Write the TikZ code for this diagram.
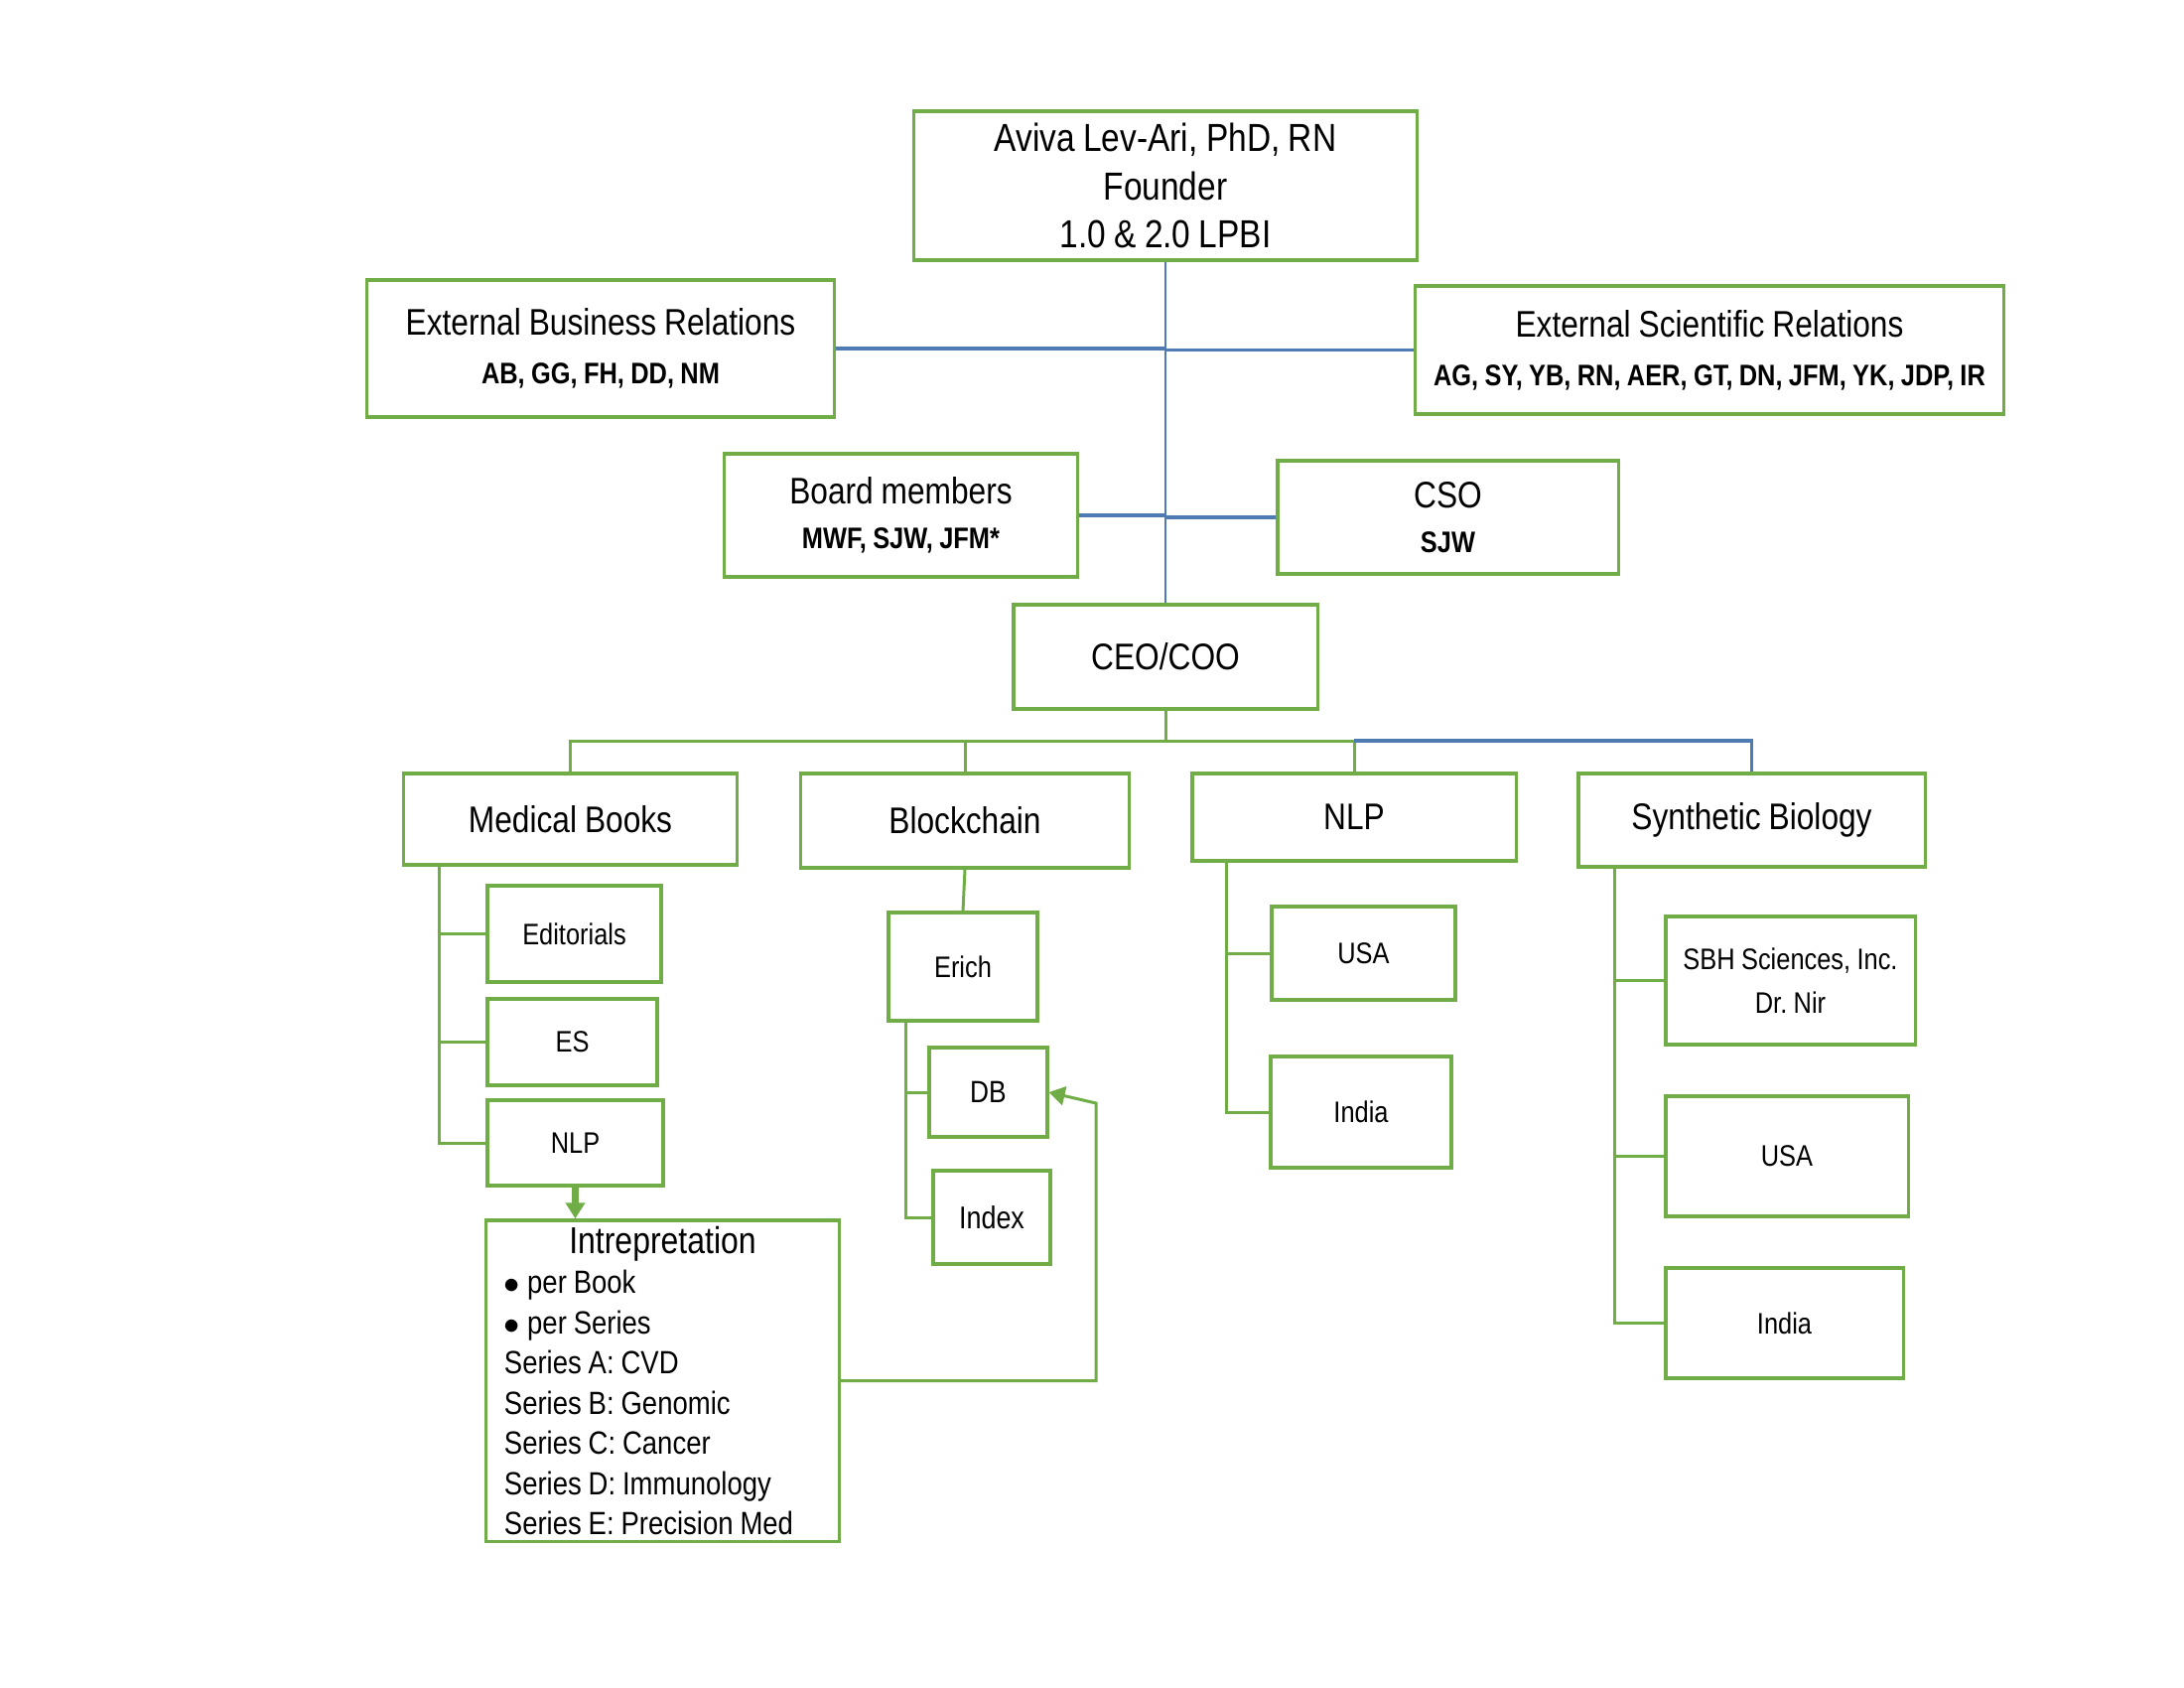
\documentclass[tikz,border=0pt]{standalone}
\usepackage{fontspec}
\setmainfont{Liberation Sans}[FakeStretch=0.85, WordSpace=0.9]
\usepackage{xcolor}
\usepackage{tikz}
\usetikzlibrary{arrows.meta}

\definecolor{boxgreen}{HTML}{70AD47}
\definecolor{linkblue}{HTML}{4E7CB2}

\newcommand{\bigfont}{\fontsize{10.6}{13}\selectfont}
\newcommand{\idfont}{\fontsize{8.5}{10}\selectfont\bfseries}
\newcommand{\subfont}{\fontsize{8.5}{12.4}\selectfont}
\newcommand{\itembullet}{$\bullet$\hspace{0.07cm}}
\frenchspacing

\begin{document}
\begin{tikzpicture}[
    x=0.01cm, y=-0.01cm,
    % Stili comuni per riquadri e collegamenti dell'organigramma.
    box/.style={draw=boxgreen, line width=0.9pt, fill=white, inner sep=2pt, align=center},
    big box/.style={box, font=\bigfont},
    sub box/.style={box, font=\subfont},
    link/.style={draw=boxgreen, line width=0.85pt},
    trunk/.style={draw=linkblue, line width=0.6pt},
    branch/.style={draw=linkblue, line width=0.95pt},
    tip/.style={-{Triangle[width=0.19cm, length=0.16cm]}}
]
\useasboundingbox (0,0) rectangle (2200,1700);

% Vertice e relazioni esterne.
\node[box, font=\fontsize{11.2}{13.8}\selectfont, minimum width=5.06cm, minimum height=1.50cm]
    (founder) at (1174,187) {Aviva Lev-Ari, PhD, RN\\Founder\\1.0 \& 2.0 LPBI};
\node[big box, font=\fontsize{10.6}{14}\selectfont, minimum width=4.70cm, minimum height=1.38cm]
    (extbus) at (605,351) {External Business Relations\\{\idfont AB, GG, FH, DD, NM}};
\node[big box, font=\fontsize{10.6}{14}\selectfont, minimum width=5.92cm, minimum height=1.29cm]
    (extsci) at (1722,352.5) {External Scientific Relations\\{\idfont AG, SY, YB, RN, AER, GT, DN, JFM, YK, JDP, IR}};
\node[big box, font=\fontsize{10.6}{12.8}\selectfont, minimum width=3.55cm, minimum height=1.24cm]
    (board) at (907.5,519) {Board members\\{\idfont MWF, SJW, JFM*}};
\node[big box, font=\fontsize{10.6}{12.8}\selectfont, minimum width=3.43cm, minimum height=1.14cm]
    (cso) at (1458.5,521) {CSO\\{\idfont SJW}};
\node[big box, minimum width=3.06cm, minimum height=1.05cm] (ceo) at (1174,661.5) {CEO/COO};

% Tronco centrale in blu.
\draw[trunk] (founder.south) -- (ceo.north);
\draw[branch] (extbus.east) -- (extbus.east -| founder.south);
\draw[branch] (extsci.west) -- (extsci.west -| founder.south);
\draw[branch] (board.east) -- (board.east -| founder.south);
\draw[branch] (cso.west) -- (cso.west -| founder.south);

% Aree di attivita'.
\node[big box, minimum width=3.35cm, minimum height=0.92cm] (medbooks) at (574.5,825) {Medical Books};
\node[big box, minimum width=3.30cm, minimum height=0.95cm] (blockchain) at (972,826.5) {Blockchain};
\node[big box, minimum width=3.26cm, minimum height=0.88cm] (nlp) at (1364,823) {NLP};
\node[big box, minimum width=3.49cm, minimum height=0.94cm] (synbio) at (1764.5,826) {Synthetic Biology};

\coordinate (bus) at (1174,746);
\draw[link] (ceo.south) -- (bus);
\draw[link] (medbooks.north) |- (bus);
\draw[link] (blockchain.north) |- (bus);
\draw[link] (nlp.north) |- (bus);
\draw[branch] (synbio.north) |- (nlp.north |- bus);

% Ramo Medical Books.
\node[sub box, minimum width=1.75cm, minimum height=0.97cm] (editorials) at (578.5,940.5) {Editorials};
\node[sub box, minimum width=1.71cm, minimum height=0.87cm] (es) at (576.5,1049.5) {ES};
\node[sub box, minimum width=1.77cm, minimum height=0.86cm] (nlpbooks) at (579.5,1151) {NLP};
\node[box, text width=3.19cm, minimum height=3.23cm, inner xsep=0.18cm, inner ysep=1pt,
      align=left, font=\fontsize{9.2}{11.5}\selectfont]
    (interp) at (667.5,1390.5)
    {\spaceskip=0pt \xspaceskip=0pt
     {\centering\fontsize{10.7}{11.5}\selectfont Intrepretation\par}
     \itembullet per Book\\
     \itembullet per Series\\
     Series A: CVD\\
     Series B: Genomic\\
     Series C: Cancer\\
     Series D: Immunology\\
     Series E: Precision Med};

\coordinate (mbspine) at (442,871);
\draw[link] (mbspine) |- (editorials.west);
\draw[link] (mbspine) |- (es.west);
\draw[link] (mbspine) |- (nlpbooks.west);
\draw[link, line width=1.8pt, tip] (nlpbooks.south) -- (interp.north -| nlpbooks.south);

% Ramo Blockchain.
\node[sub box, minimum width=1.50cm, minimum height=1.09cm] (erich) at (970,973.5) {Erich};
\node[sub box, font=\fontsize{8.8}{11}\selectfont, minimum width=1.19cm, minimum height=0.90cm] (db) at (995.5,1100) {DB};
\node[sub box, font=\fontsize{9}{11}\selectfont, minimum width=1.18cm, minimum height=0.94cm] (index) at (999,1226) {Index};

\coordinate (erspine) at (912,1028);
\draw[link] (blockchain.south) -- (erich.north);
\draw[link] (erspine) |- (db.west);
\draw[link] (erspine) |- (index.west);

\coordinate (loopA) at (1104,1390.5);
\coordinate (loopB) at (1104,1111);
\draw[link, tip] (interp.east) -- (loopA) -- (loopB) -- (db.east);

% Ramo NLP.
\node[sub box, minimum width=1.85cm, minimum height=0.94cm] (nlpusa) at (1373.5,960) {USA};
\node[sub box, minimum width=1.82cm, minimum height=1.12cm] (nlpindia) at (1371,1120) {India};

\coordinate (nlpspine) at (1235,867);
\draw[link] (nlpspine) |- (nlpusa.west);
\draw[link] (nlpspine) |- (nlpindia.west);

% Ramo Synthetic Biology.
\node[sub box, minimum width=2.51cm, minimum height=1.29cm] (sbh) at (1803.5,987.5) {SBH Sciences, Inc.\\Dr. Nir};
\node[sub box, minimum width=2.44cm, minimum height=1.21cm] (sbusa) at (1800,1164.5) {USA};
\node[sub box, minimum width=2.39cm, minimum height=1.11cm] (sbindia) at (1797.5,1332.5) {India};

\coordinate (sbspine) at (1626,873);
\draw[link] (sbspine) |- (sbh.west);
\draw[link] (sbspine) |- (sbusa.west);
\draw[link] (sbspine) |- (sbindia.west);
\end{tikzpicture}
\end{document}
